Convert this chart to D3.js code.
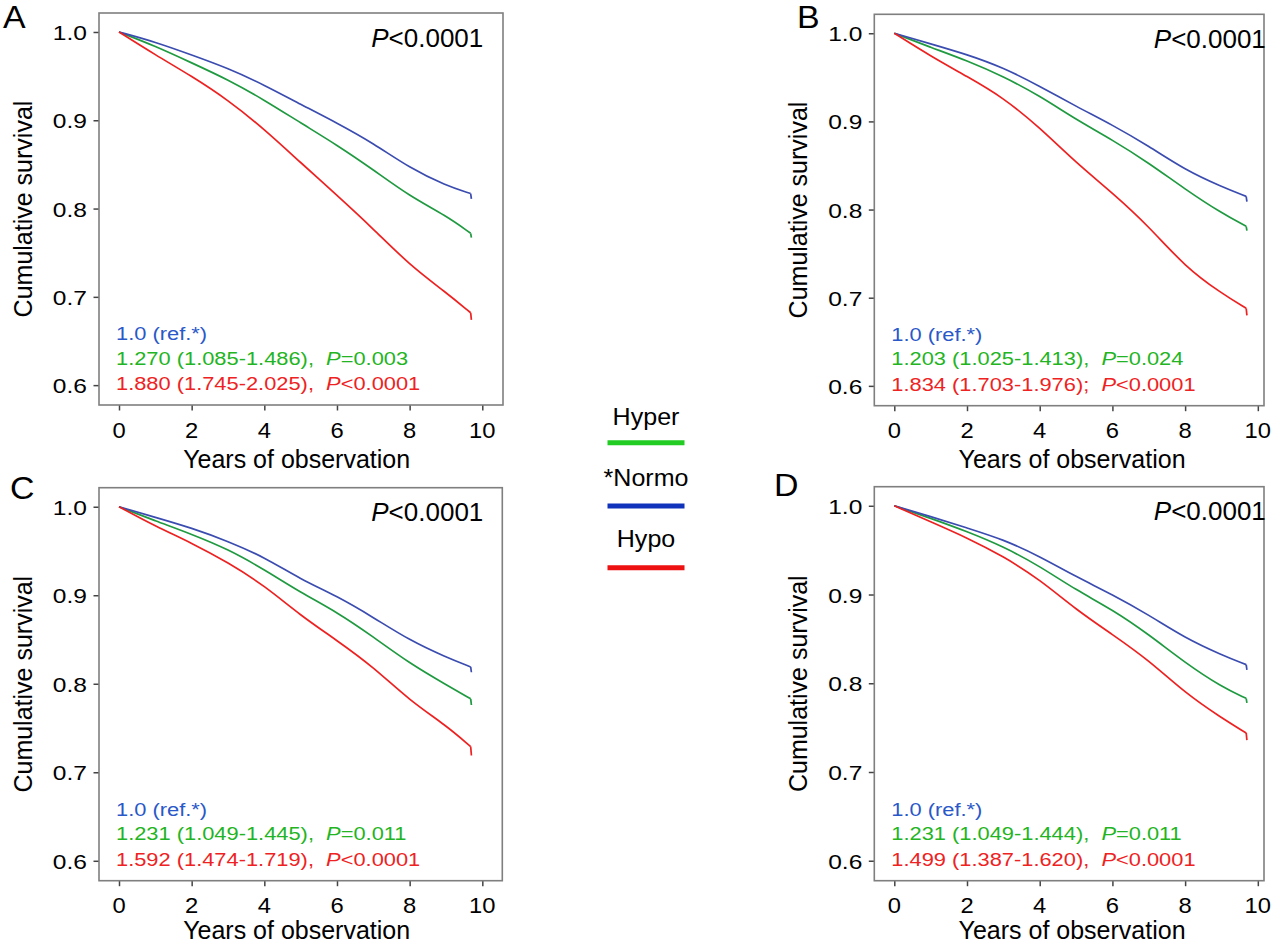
<!DOCTYPE html>
<html><head><meta charset="utf-8">
<script src="https://cdn.jsdelivr.net/npm/d3@7"></script>
<style>
body{margin:0;background:#fff}
text{font-family:"Liberation Sans",Arial,Helvetica,sans-serif;white-space:pre}
</style>
</head><body>
<svg id="chart" width="1280" height="944"></svg>
<script>
// ---------- data ----------
const years = [0, 1, 2, 3, 4, 5, 6, 7, 8, 9, 9.68, 9.7];
const xTicks = [0, 2, 4, 6, 8, 10];
const yTicks = [0.6, 0.7, 0.8, 0.9, 1.0];
const panelLetters = ["A", "B", "C", "D"];
const seriesNames = ["Hyper", "*Normo", "Hypo"];

const hyperA = [1, 0.984, 0.965, 0.946, 0.923, 0.897, 0.872, 0.844, 0.814, 0.792, 0.772, 0.767];
const normoA = [1, 0.9887, 0.974, 0.959, 0.940, 0.918, 0.897, 0.874, 0.846, 0.826, 0.817, 0.811];
const hypoA  = [1, 0.974, 0.950, 0.923, 0.890, 0.852, 0.815, 0.777, 0.736, 0.705, 0.682, 0.674];

const hyperB = [1, 0.984, 0.969, 0.951, 0.929, 0.902, 0.879, 0.853, 0.823, 0.796, 0.781, 0.776];
const normoB = [1, 0.988, 0.976, 0.961, 0.940, 0.917, 0.896, 0.872, 0.845, 0.826, 0.815, 0.809];
const hypoB  = [1, 0.974, 0.951, 0.927, 0.893, 0.853, 0.819, 0.781, 0.735, 0.705, 0.688, 0.680];

const hyperC = [1, 0.984, 0.969, 0.952, 0.929, 0.903, 0.881, 0.853, 0.823, 0.799, 0.783, 0.776];
const normoC = [1, 0.988, 0.976, 0.961, 0.943, 0.918, 0.899, 0.875, 0.849, 0.830, 0.819, 0.813];
const hypoC  = [1, 0.978, 0.959, 0.937, 0.911, 0.877, 0.849, 0.819, 0.781, 0.753, 0.729, 0.719];

const hyperD = [1, 0.986, 0.971, 0.954, 0.932, 0.905, 0.883, 0.855, 0.823, 0.796, 0.783, 0.778];
const normoD = [1, 0.988, 0.975, 0.962, 0.943, 0.920, 0.900, 0.877, 0.851, 0.832, 0.821, 0.815];
const hypoD  = [1, 0.982, 0.964, 0.943, 0.917, 0.883, 0.855, 0.826, 0.789, 0.761, 0.744, 0.736];

const overallP = ["<0.0001", "<0.0001", "<0.0001", "<0.0001"];
const hrRef = ["1.0 (ref.*)", "1.0 (ref.*)", "1.0 (ref.*)", "1.0 (ref.*)"];
const hrHyper = ["1.270 (1.085-1.486)", "1.203 (1.025-1.413)", "1.231 (1.049-1.445)", "1.231 (1.049-1.444)"];
const pHyper = ["=0.003", "=0.024", "=0.011", "=0.011"];
const sepHyper = [",", ",", ",", ","];
const hrHypo = ["1.880 (1.745-2.025)", "1.834 (1.703-1.976)", "1.592 (1.474-1.719)", "1.499 (1.387-1.620)"];
const pHypo = ["<0.0001", "<0.0001", "<0.0001", "<0.0001"];
const sepHypo = [",", ";", ",", ","];

// ---------- styles / layout ----------
const lineColors = ["#1f9a40", "#3b4cb0", "#ee2020"];
const textColors = ["#2a58c8", "#22b422", "#ee2222"];
const legendColors = ["#22cc22", "#1133bb", "#ee1111"];

const panels = [
  {box: [99, 503, 13, 405], xd: [-0.5505, 10.57]},
  {box: [874.3, 1264, 14.3, 405.7], xd: [-0.55, 10.17]},
  {box: [99, 502.3, 487.7, 880.7], xd: [-0.5505, 10.55]},
  {box: [874.3, 1264, 486.7, 880.7], xd: [-0.55, 10.17]}
];
const yDomain = [0.5775, 1.0215];
const letterPos = [[3, 28], [797, 28], [10, 499], [774, 496]];
const xLabelY = [467.5, 468, 938.5, 938.5];
const curves = [
  [hyperA, normoA, hypoA], [hyperB, normoB, hypoB],
  [hyperC, normoC, hypoC], [hyperD, normoD, hypoD]
];

const svg = d3.select("#chart");

function txt(parent, x, y, size, sx, anchor, fill) {
  const g = parent.append("g").attr("transform", `translate(${x},${y}) scale(${sx},1)`);
  return g.append("text").attr("x", 0).attr("y", 0)
    .attr("font-size", size).attr("text-anchor", anchor || "start")
    .attr("fill", fill || "#000");
}

panels.forEach((p, i) => {
  const [L, R, T, B] = p.box;
  const x = d3.scaleLinear().domain(p.xd).range([L, R]);
  const y = d3.scaleLinear().domain(yDomain).range([B, T]);
  const g = svg.append("g");

  const xAxis = g.append("g").attr("transform", `translate(0,${B})`)
    .call(d3.axisBottom(x).tickValues(xTicks).tickSize(5.5).tickFormat(""));
  const yAxis = g.append("g").attr("transform", `translate(${L},0)`)
    .call(d3.axisLeft(y).tickValues(yTicks).tickSize(5.5).tickFormat(""));
  [xAxis, yAxis].forEach(a => {
    a.select(".domain").remove();
    a.selectAll(".tick line").attr("stroke", "#444").attr("stroke-width", 1.5);
  });
  xTicks.forEach(v => txt(g, x(v), B + 32.5, 22, 1.08, "middle").text(d3.format("d")(v)));
  yTicks.forEach(v => txt(g, L - 12, y(v) + 8, 21, 1.17, "end").text(d3.format(".1f")(v)));

  // curves: smooth body plus the final small drop
  const n = years.length;
  const body = d3.line().x((d, k) => x(years[k])).y(d => y(d)).curve(d3.curveBasis);
  const tail = d3.line().x(d => x(d[0])).y(d => y(d[1]));
  curves[i].forEach((s, k) => {
    g.append("path").datum(s.slice(0, n - 1)).attr("d", body).attr("fill", "none")
      .attr("stroke", lineColors[k]).attr("stroke-width", 1.7).attr("stroke-linejoin", "round");
    g.append("path").datum([[years[n - 2], s[n - 2]], [years[n - 1], s[n - 1]]])
      .attr("d", tail).attr("fill", "none")
      .attr("stroke", lineColors[k]).attr("stroke-width", 1.7);
  });

  g.append("rect").attr("x", L).attr("y", T).attr("width", R - L).attr("height", B - T)
    .attr("fill", "none").attr("stroke", "#7f7f7f").attr("stroke-width", 1.6);

  txt(g, (x(0) + x(10)) / 2 - 4, xLabelY[i], 25, 1.0, "middle").text("Years of observation");
  g.append("text").attr("transform", `translate(${L - 67.5},${(T + B) / 2}) rotate(-90)`)
    .attr("font-size", 25).attr("text-anchor", "middle").attr("fill", "#000")
    .text("Cumulative survival");

  const pt = txt(g, x(10) + (i % 2 ? 8 : 1), T + 33.7, 25, 1.04, "end");
  pt.append("tspan").attr("font-style", "italic").text("P");
  pt.append("tspan").text(overallP[i]);

  const ax = L + 17, by = B - 65;
  txt(g, ax, by, 19, 1.15, "start", textColors[0]).text(hrRef[i]);
  const t2 = txt(g, ax, by + 24.5, 19, 1.15, "start", textColors[1]);
  t2.append("tspan").text(hrHyper[i] + sepHyper[i] + "  ");
  t2.append("tspan").attr("font-style", "italic").text("P");
  t2.append("tspan").text(pHyper[i]);
  const t3 = txt(g, ax, by + 50, 19, 1.15, "start", textColors[2]);
  t3.append("tspan").text(hrHypo[i] + sepHypo[i] + "  ");
  t3.append("tspan").attr("font-style", "italic").text("P");
  t3.append("tspan").text(pHypo[i]);

  txt(svg, letterPos[i][0], letterPos[i][1], 32, 1.06, "start").text(panelLetters[i]);
});

// legend
const legX = 646, legW = 77;
const legTextY = [425, 486, 546.7];
const legLineY = [442.7, 506, 567.7];
seriesNames.forEach((nm, k) => {
  txt(svg, legX, legTextY[k], 23, 1.09, "middle").text(nm);
  svg.append("line").attr("x1", legX - legW / 2).attr("x2", legX + legW / 2)
    .attr("y1", legLineY[k]).attr("y2", legLineY[k])
    .attr("stroke", legendColors[k]).attr("stroke-width", 5);
});
</script>
</body></html>
